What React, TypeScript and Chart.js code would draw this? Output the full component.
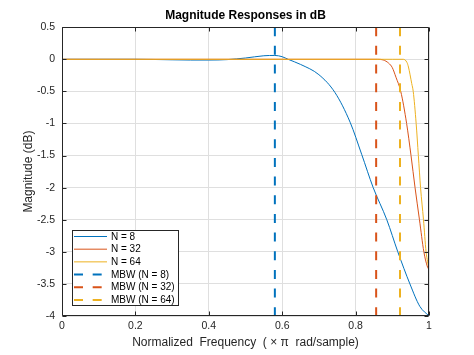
import React, { useEffect, useRef } from "react";
import { Chart, registerables } from "chart.js";

Chart.register(...registerables);

// ---- data ----
const freqN8 = [0, 0.1, 0.2, 0.25, 0.3, 0.35, 0.4, 0.45, 0.5, 0.55, 0.58, 0.6, 0.616, 0.65, 0.7, 0.744, 0.785, 0.8165, 0.848, 0.885, 0.915, 0.948, 0.975, 1];
const magN8 = [0, 0, 0, -0.003, -0.008, -0.012, -0.012, -0.005, 0.02, 0.055, 0.06, 0.04, 0, -0.08, -0.24, -0.52, -0.98, -1.48, -2.0, -2.5, -3.0, -3.5, -3.85, -4.0];

const freqN32 = [0, 0.2, 0.4, 0.6, 0.8, 0.86, 0.875, 0.89, 0.9, 0.91, 0.923, 0.939, 0.951, 0.962, 0.974, 0.986, 0.995, 1];
const magN32 = [0, 0, 0, 0, 0, 0, -0.01, -0.06, -0.13, -0.28, -0.5, -1.0, -1.5, -2.0, -2.5, -3.0, -3.22, -3.28];

const freqN64 = [0, 0.2, 0.4, 0.6, 0.8, 0.9, 0.93, 0.94, 0.944, 0.953, 0.957, 0.965, 0.971, 0.977, 0.985, 0.992, 0.996, 1];
const magN64 = [0, 0, 0, 0, 0, 0, 0, -0.05, -0.12, -0.38, -0.5, -1.0, -1.5, -2.0, -2.5, -3.0, -3.15, -3.26];

const mbwFreqs = [0.58, 0.856, 0.921];

const seriesLabels = ["N = 8", "N = 32", "N = 64"];
const mbwLabels = ["MBW (N = 8)", "MBW (N = 32)", "MBW (N = 64)"];
const seriesColors = ["#0072BD", "#D95319", "#EDB120"];

const xTickValues = [0, 0.2, 0.4, 0.6, 0.8, 1];
const yTickValues = [-4, -3.5, -3, -2.5, -2, -1.5, -1, -0.5, 0, 0.5];

const titleText = "Magnitude Responses in dB";
const xTitleText = "Normalized  Frequency  ( \u00D7 \u03C0  rad/sample)";
const yTitleText = "Magnitude (dB)";

const FONT = "'Liberation Sans', Arial, Helvetica, sans-serif";
const AXIS_COLOR = "#262626";

function toPoints(xs: number[], ys: number[]) {
  return xs.map((x, i) => ({ x, y: ys[i] }));
}

const framePlugin = {
  id: "matlabFrame",
  afterDatasetsDraw(chart: any) {
    const { ctx, chartArea } = chart;
    const { left, right, top, bottom } = chartArea;
    const xs = chart.scales.x;
    const ys = chart.scales.y;
    const tl = 4;
    ctx.save();
    ctx.strokeStyle = AXIS_COLOR;
    ctx.lineWidth = 1;
    ctx.beginPath();
    const L = Math.round(left) + 0.5;
    const R = Math.round(right) - 0.5;
    const T = Math.round(top) + 0.5;
    const B = Math.round(bottom) - 0.5;
    ctx.rect(L, T, R - L, B - T);
    xTickValues.forEach((v) => {
      const px = Math.round(xs.getPixelForValue(v)) + 0.5;
      ctx.moveTo(px, B);
      ctx.lineTo(px, B - tl);
      ctx.moveTo(px, T);
      ctx.lineTo(px, T + tl);
    });
    yTickValues.forEach((v) => {
      const py = Math.round(ys.getPixelForValue(v)) + 0.5;
      ctx.moveTo(L, py);
      ctx.lineTo(L + tl, py);
      ctx.moveTo(R, py);
      ctx.lineTo(R - tl, py);
    });
    ctx.stroke();
    ctx.restore();
  },
};

const legendPlugin = {
  id: "boxLegend",
  afterDraw(chart: any) {
    const { ctx, chartArea } = chart;
    const datasets = chart.data.datasets;
    const lw = 107;
    const rowH = 12.68;
    const lh = 76;
    const lx = Math.round(chartArea.left) + 10;
    const ly = Math.round(chartArea.bottom) - 10 - lh;
    ctx.save();
    ctx.fillStyle = "#ffffff";
    ctx.fillRect(lx, ly, lw, lh);
    ctx.strokeStyle = AXIS_COLOR;
    ctx.lineWidth = 1;
    ctx.strokeRect(lx + 0.5, ly + 0.5, lw - 1, lh - 1);
    ctx.font = `10px ${FONT}`;
    ctx.textBaseline = "middle";
    ctx.textAlign = "left";
    datasets.forEach((ds: any, i: number) => {
      const cy = ly + 6.5 + i * rowH;
      ctx.save();
      ctx.strokeStyle = ds.borderColor;
      ctx.lineWidth = ds.borderWidth;
      ctx.setLineDash(ds.borderDash || []);
      ctx.beginPath();
      ctx.moveTo(lx + 2, cy);
      ctx.lineTo(lx + 35, cy);
      ctx.stroke();
      ctx.restore();
      ctx.fillStyle = "#000000";
      ctx.fillText(ds.label, lx + 39, cy + 0.5);
    });
    ctx.restore();
  },
};

export default function App() {
  const canvasRef = useRef<HTMLCanvasElement | null>(null);

  useEffect(() => {
    if (!canvasRef.current) return;
    const solid = [
      { xs: freqN8, ys: magN8 },
      { xs: freqN32, ys: magN32 },
      { xs: freqN64, ys: magN64 },
    ].map((s, i) => ({
      label: seriesLabels[i],
      data: toPoints(s.xs, s.ys),
      borderColor: seriesColors[i],
      backgroundColor: seriesColors[i],
      borderWidth: 1,
      pointRadius: 0,
      fill: false,
      cubicInterpolationMode: "monotone" as const,
      order: 5 - i,
    }));
    const dashed = mbwFreqs.map((f, i) => ({
      label: mbwLabels[i],
      data: [
        { x: f, y: 0.5 },
        { x: f, y: -4 },
      ],
      borderColor: seriesColors[i],
      backgroundColor: seriesColors[i],
      borderWidth: 2,
      borderDash: [9, 9.67],
      pointRadius: 0,
      fill: false,
      order: 2 - i,
    }));

    const chart = new Chart(canvasRef.current, {
      type: "line",
      data: { datasets: [...solid, ...dashed] as any },
      options: {
        animation: false,
        responsive: false,
        devicePixelRatio: 1,
        events: [],
        layout: { padding: { left: 0, right: 45, top: 0, bottom: 0 } },
        plugins: {
          legend: { display: false },
          tooltip: { enabled: false },
          title: {
            display: true,
            text: titleText,
            fullSize: false,
            color: "#000000",
            font: { family: FONT, size: 12, weight: "bold" },
            padding: { top: 8.5, bottom: 4.3 },
          },
        },
        scales: {
          x: {
            type: "linear",
            min: 0,
            max: 1,
            afterBuildTicks: (s: any) => {
              s.ticks = xTickValues.map((v) => ({ value: v }));
            },
            afterFit: (s: any) => {
              s.height = 39;
            },
            ticks: {
              color: AXIS_COLOR,
              font: { family: FONT, size: 10.5 },
              padding: 3.5,
              maxRotation: 0,
              autoSkip: false,
              callback: (v: any) => String(v),
            },
            grid: { color: "#dfdfdf", lineWidth: 1, drawTicks: false },
            border: { display: false },
            title: {
              display: true,
              text: xTitleText,
              color: AXIS_COLOR,
              font: { family: FONT, size: 12 },
              padding: { top: 0, bottom: 4.8 },
            },
          },
          y: {
            type: "linear",
            min: -4,
            max: 0.5,
            afterBuildTicks: (s: any) => {
              s.ticks = yTickValues.map((v) => ({ value: v }));
            },
            afterFit: (s: any) => {
              s.width = 62;
            },
            ticks: {
              color: AXIS_COLOR,
              font: { family: FONT, size: 10.5 },
              padding: 7,
              autoSkip: false,
              callback: (v: any) => String(v),
            },
            grid: { color: "#dfdfdf", lineWidth: 1, drawTicks: false },
            border: { display: false },
            title: {
              display: true,
              text: yTitleText,
              color: AXIS_COLOR,
              font: { family: FONT, size: 12 },
              padding: { top: 21.8, bottom: 0 },
            },
          },
        },
      },
      plugins: [framePlugin, legendPlugin],
    });
    return () => chart.destroy();
  }, []);

  return (
    <div style={{ position: "absolute", left: 0, top: 0, width: 474, height: 355, background: "#ffffff" }}>
      <canvas ref={canvasRef} width={474} height={355} style={{ display: "block" }} />
    </div>
  );
}
